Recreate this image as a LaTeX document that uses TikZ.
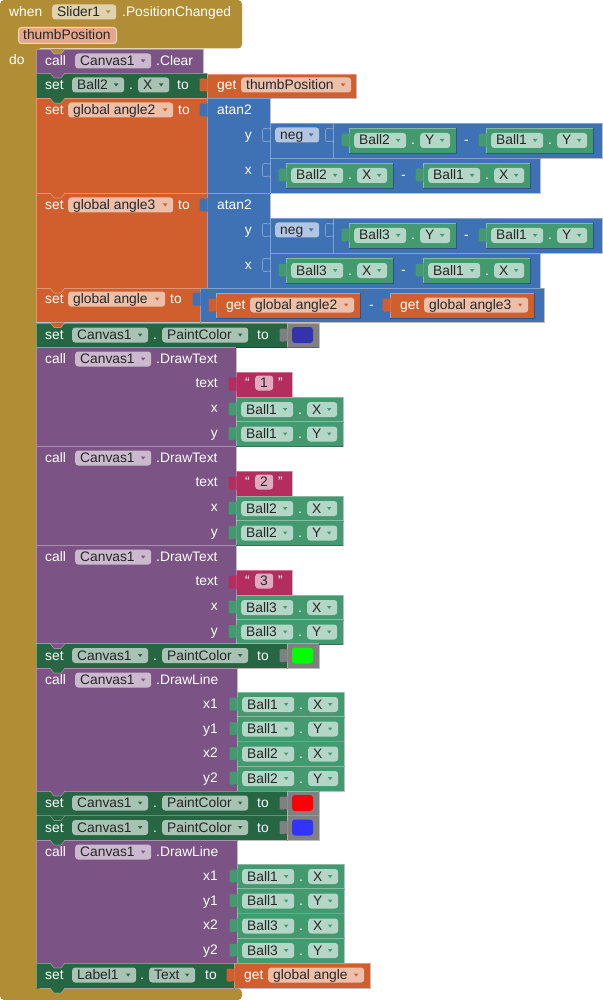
\documentclass[tikz,border=0pt]{standalone}
\usepackage{fontspec}
\setmainfont{Liberation Sans}
\definecolor{gold}{HTML}{B18E35}
\definecolor{purp}{HTML}{7C5385}
\definecolor{dgreen}{HTML}{266643}
\definecolor{mgreen}{HTML}{439970}
\definecolor{orng}{HTML}{D05F2D}
\definecolor{blu}{HTML}{3F71B5}
\definecolor{crim}{HTML}{B32D5E}
\definecolor{gry}{HTML}{808080}
\tikzset{%
    lite/.style={draw=white, draw opacity=0.35, line width=0.6pt},
    dark/.style={draw=black, draw opacity=0.25, line width=0.6pt},
    lab/.style={text=white, inner sep=0pt, anchor=west, text height=11pt, text depth=2pt, font=\fontsize{13.8}{16}\selectfont},
    labr/.style={lab, anchor=east},
    fldbox/.style={rectangle, rounded corners=3pt, minimum height=15pt, inner sep=0pt, anchor=west},
    fldtxt/.style={lab, text=black!85}
}
\newcounter{nd}
% block with its bevel: colour, x0, y0, x1, y1
\newcommand{\blk}[5]{%
    \fill[#1] (#2,#3) rectangle (#4,#5);
    \draw[lite] (#2,#5)--(#2,#3)--(#4,#3);
    \draw[dark] (#4,#3)--(#4,#5)--(#2,#5);
}
\newcommand{\notch}[2]{%
    \fill[#1] (50,#2) -- ++(4,5) -- ++(7,0) -- ++(4,-5) -- cycle;
    \draw[lite] (50,#2) -- ++(4,5) -- ++(7,0) -- ++(4,-5);
}
\newcommand{\peg}[3]{%
    \fill[#1,shift={(#2,#3)}] (0.5,-7) .. controls (-1,-5.5) and (-2,-5.5) .. (-3,-6.5) -- (-6,-6.5) .. controls (-7.5,-6.5) and (-7.5,-5) .. (-7.5,-4) -- (-7.5,4) .. controls (-7.5,5) and (-7.5,6.5) .. (-6,6.5) -- (-3,6.5) .. controls (-2,5.5) and (-1,5.5) .. (0.5,7) -- cycle;
}
\newcommand{\sock}[2]{%
    \draw[lite,shift={(#1,#2)}] (0.5,-7) .. controls (-1,-5.5) and (-2,-5.5) .. (-3,-6.5) -- (-6,-6.5) .. controls (-7.5,-6.5) and (-7.5,-5) .. (-7.5,-4) -- (-7.5,4) .. controls (-7.5,5) and (-7.5,6.5) .. (-6,6.5) -- (-3,6.5) .. controls (-2,5.5) and (-1,5.5) .. (0.5,7);
}
\newcommand{\lab}[3]{\stepcounter{nd}\node (t\arabic{nd}) [lab] at (#1,#2) {#3};}
\newcommand{\labr}[3]{\stepcounter{nd}\node (t\arabic{nd}) [labr] at (#1,#2) {#3};}
% plain field: colour, x0, x1, yc, text
\newcommand{\lit}[5]{%
    \stepcounter{nd}\pgfmathsetmacro{\fw}{#3-#2}
    \node (f\arabic{nd}) [fldbox, fill=#1!40!white, minimum width=\fw pt] at (#2,#4) {};
    \node (t\arabic{nd}) [fldtxt] at ([xshift=5pt]f\arabic{nd}.west) {#5};
}
% field with the drop-down mark
\newcommand{\fld}[5]{%
    \lit{#1}{#2}{#3}{#4}{#5}
    \fill[#1] ([xshift=-10.5pt,yshift=1.5pt]f\arabic{nd}.east) -- ++(4.5,0) -- ++(-2.25,3) -- cycle;
}
\newcommand{\ballget}[4]{%
    \begin{scope}[shift={(#1,#2)}]
        \blk{mgreen}{0}{0}{107}{25}
        \peg{mgreen}{0}{12}
        \fld{mgreen}{5}{57}{12.5}{#3}
        \lab{62}{12.5}{.}
        \fld{mgreen}{71}{101}{12.5}{#4}
    \end{scope}
}
\newcommand{\setpaint}[2]{%
    \begin{scope}[shift={(0,#1)}]
        \blk{dgreen}{36}{0}{287}{24.5}
        \lab{45}{12}{set}
        \fld{dgreen}{72}{148}{12}{Canvas1}
        \lab{153}{12}{.}
        \fld{dgreen}{162}{248}{12}{PaintColor}
        \lab{257}{12}{to}
        \blk{gry}{287}{0}{319}{24.5}
        \peg{gry}{287}{12}
        \fill[#2, rounded corners=3pt] (292,4) rectangle (313,20);
    \end{scope}
}
\newcommand{\callrow}[1]{%
    \lab{45}{12}{call}
    \fld{purp}{75}{151}{12}{Canvas1}
    \lab{156}{12}{#1}
}
\newcommand{\drawtext}[4]{%
    \begin{scope}[shift={(0,#1)}]
        \blk{purp}{36}{0}{236}{99}
        \callrow{.DrawText}
        \labr{218}{36}{text}
        \labr{218}{61}{x}
        \labr{218}{86}{y}
        \blk{crim}{236}{25}{292}{50}
        \peg{crim}{236}{37}
        \lab{245}{36}{“}
        \lit{crim}{255}{273}{36}{#2}
        \lab{278}{36}{”}
        \ballget{236}{50}{#3}{X}
        \ballget{236}{74.5}{#3}{Y}
    \end{scope}
}
\newcommand{\drawline}[3]{%
    \begin{scope}[shift={(0,#1)}]
        \blk{purp}{36}{0}{237}{123}
        \callrow{.DrawLine}
        \labr{218}{36}{x1}
        \labr{218}{60.5}{y1}
        \labr{218}{85}{x2}
        \labr{218}{110}{y2}
        \ballget{237}{24}{#2}{X}
        \ballget{237}{48.5}{#2}{Y}
        \ballget{237}{73.5}{#3}{X}
        \ballget{237}{98}{#3}{Y}
    \end{scope}
}
\newcommand{\setangle}[3]{%
    \begin{scope}[shift={(0,#1)}]
        \blk{orng}{36}{0}{207}{95}
        \lab{45}{12}{set}
        \fld{orng}{68}{173}{12}{#2}
        \lab{178}{12}{to}
        \blk{blu}{207}{0}{270}{95}
        \peg{blu}{207}{12}
        \lab{217}{12}{atan2}
        \labr{252}{37}{y}
        \labr{252}{72}{x}
        \blk{blu}{270}{25}{333}{60}
        \sock{270}{37}
        \fld{blu}{275}{319}{37}{neg}
        \blk{blu}{333}{25}{602}{60}
        \sock{333}{37}
        \ballget{349}{30}{#3}{Y}
        \lab{464}{42}{-}
        \ballget{486}{30}{Ball1}{Y}
        \blk{blu}{270}{60}{540}{95}
        \sock{270}{72}
        \ballget{286}{65}{#3}{X}
        \lab{401}{77}{-}
        \ballget{423}{65}{Ball1}{X}
    \end{scope}
}
\begin{document}
\begin{tikzpicture}[x=1pt,y=-1pt]
    \useasboundingbox (0,0) rectangle (602,1000);
    \fill[gold, rounded corners=4pt] (0,0) -- (242,0) -- (242,48.5) -- (36,48.5) -- (36,988.5) -- (242,988.5) -- (242,1000) -- (0,1000) -- cycle;
    \lab{9}{12}{when}
    \fld{gold}{52}{116}{12}{Slider1}
    \lab{122}{12}{.PositionChanged}
    \node (argbox) [fldbox, fill=orng!55!white, draw=orng!25!white, line width=1pt, minimum width=98pt, minimum height=16pt] at (18,35.5) {};
    \node (argtxt) [fldtxt] at ([xshift=5pt]argbox.west) {thumbPosition};
    \lab{9}{60}{do}
    %statements
    \blk{purp}{36}{49}{203}{73}
    \notch{gold}{49}
    \begin{scope}[shift={(0,49)}]
        \callrow{.Clear}
    \end{scope}
    \blk{dgreen}{36}{73}{207}{98}
    \lab{45}{85}{set}
    \fld{dgreen}{72}{124}{85}{Ball2}
    \lab{129}{85}{.}
    \fld{dgreen}{138}{169}{85}{X}
    \lab{177}{85}{to}
    \blk{orng}{207}{74}{356}{98}
    \peg{orng}{207}{85}
    \lab{217}{85}{get}
    \fld{orng}{241}{351}{85}{thumbPosition}
    \notch{purp}{73}
    \setangle{98}{global angle2}{Ball2}
    \notch{dgreen}{98}
    \setangle{193}{global angle3}{Ball3}
    \notch{orng}{193}
    \blk{orng}{36}{288}{200}{322}
    \lab{45}{299}{set}
    \fld{orng}{68}{165}{299}{global angle}
    \lab{170}{299}{to}
    \blk{blu}{200}{288}{544}{322}
    \peg{blu}{200}{299}
    \blk{orng}{216}{293}{360}{318}
    \peg{orng}{216}{305}
    \lab{226}{305}{get}
    \fld{orng}{250}{354}{305}{global angle2}
    \lab{369}{305}{-}
    \blk{orng}{390}{293}{534}{318}
    \peg{orng}{390}{305}
    \lab{400}{305}{get}
    \fld{orng}{424}{528}{305}{global angle3}
    \notch{orng}{288}
    \setpaint{323}{blue!60!black!80!white}
    \notch{orng}{322.5}
    \drawtext{347}{1}{Ball1}
    \notch{dgreen}{347}
    \drawtext{446}{2}{Ball2}
    \notch{purp}{446}
    \drawtext{545}{3}{Ball3}
    \notch{purp}{545}
    \setpaint{643.5}{green}
    \notch{purp}{643.5}
    \drawline{668}{Ball1}{Ball2}
    \notch{dgreen}{668}
    \setpaint{791}{red}
    \notch{purp}{791}
    \setpaint{815.5}{blue!80!white}
    \notch{dgreen}{815.5}
    \drawline{840}{Ball1}{Ball3}
    \notch{dgreen}{840}
    \blk{dgreen}{36}{963}{234}{988}
    \lab{45}{975}{set}
    \fld{dgreen}{72}{136}{975}{Label1}
    \lab{140}{975}{.}
    \fld{dgreen}{149}{195}{975}{Text}
    \lab{205}{975}{to}
    \blk{orng}{234}{963}{370}{988}
    \peg{orng}{234}{975}
    \lab{244}{975}{get}
    \fld{orng}{268}{364}{975}{global angle}
    \notch{purp}{963}
    \notch{dgreen}{988}
\end{tikzpicture}
\end{document}
